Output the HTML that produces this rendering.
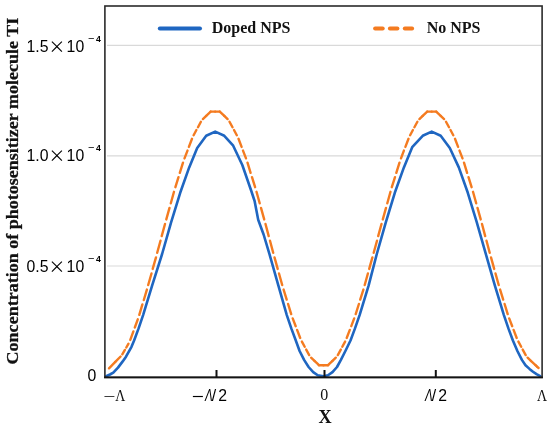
<!DOCTYPE html>
<html><head><meta charset="utf-8"><title>Concentration of photosensitizer molecule TI</title>
<style>
html,body{margin:0;padding:0;background:#fff;}
body{width:550px;height:428px;overflow:hidden;}
svg{display:block;}
.sans{font-family:"Liberation Sans",sans-serif;fill:#000;}
.serif{font-family:"Liberation Serif",serif;fill:#111;}
.b{font-weight:bold;}
</style></head><body>
<svg width="550" height="428" viewBox="0 0 550 428">
<rect width="550" height="428" fill="#fff"/>
<!-- gridlines -->
<g stroke="#d9d9d9" stroke-width="1.2">
<line x1="107" x2="541" y1="45.4" y2="45.4"/>
<line x1="107" x2="541" y1="155.9" y2="155.9"/>
<line x1="107" x2="541" y1="266" y2="266"/>
</g>
<!-- series: No NPS (dashed) -->
<g fill="none" stroke="#f47b20" stroke-width="2.4" stroke-linecap="round">
<line x1="109.0" y1="368.3" x2="115.3" y2="361.9"/>
<line x1="115.3" y1="361.9" x2="120.6" y2="356.5"/>
<line x1="122.3" y1="354.3" x2="124.9" y2="349.9"/>
<line x1="126.3" y1="347.5" x2="128.5" y2="343.7"/>
<line x1="130.3" y1="339.9" x2="133.4" y2="331.4"/>
<line x1="134.8" y1="327.5" x2="137.8" y2="319.3"/>
<line x1="139.3" y1="314.8" x2="142.4" y2="304.4"/>
<line x1="143.8" y1="300.0" x2="146.9" y2="289.6"/>
<line x1="148.2" y1="285.0" x2="151.5" y2="273.5"/>
<line x1="152.7" y1="268.9" x2="156.0" y2="257.4"/>
<line x1="157.2" y1="252.8" x2="160.5" y2="240.7"/>
<line x1="161.7" y1="236.1" x2="165.0" y2="224.0"/>
<line x1="166.3" y1="219.4" x2="169.5" y2="207.9"/>
<line x1="170.8" y1="203.3" x2="174.0" y2="191.8"/>
<line x1="175.4" y1="187.2" x2="178.5" y2="177.2"/>
<line x1="179.8" y1="172.8" x2="183.0" y2="162.7"/>
<line x1="184.5" y1="158.4" x2="187.5" y2="150.6"/>
<line x1="188.9" y1="146.9" x2="192.0" y2="138.8"/>
<line x1="193.6" y1="135.2" x2="196.4" y2="130.0"/>
<line x1="198.0" y1="127.2" x2="200.9" y2="121.7"/>
<line x1="202.9" y1="119.1" x2="206.2" y2="115.9"/>
<line x1="206.2" y1="115.9" x2="210.7" y2="111.6"/>
<line x1="210.7" y1="111.6" x2="215.2" y2="111.6"/>
<line x1="215.2" y1="111.6" x2="219.8" y2="111.6"/>
<line x1="219.8" y1="111.6" x2="224.3" y2="115.9"/>
<line x1="224.3" y1="115.9" x2="227.6" y2="119.1"/>
<line x1="229.5" y1="121.7" x2="232.5" y2="127.2"/>
<line x1="234.0" y1="130.0" x2="236.8" y2="135.2"/>
<line x1="238.5" y1="138.8" x2="241.6" y2="146.9"/>
<line x1="243.0" y1="150.6" x2="246.0" y2="158.4"/>
<line x1="247.5" y1="162.7" x2="250.6" y2="172.8"/>
<line x1="252.0" y1="177.2" x2="255.1" y2="187.2"/>
<line x1="256.5" y1="191.8" x2="259.7" y2="203.3"/>
<line x1="261.0" y1="207.9" x2="264.2" y2="219.4"/>
<line x1="265.5" y1="224.0" x2="268.7" y2="236.1"/>
<line x1="270.0" y1="240.7" x2="273.2" y2="252.8"/>
<line x1="274.5" y1="257.4" x2="277.7" y2="268.9"/>
<line x1="279.0" y1="273.5" x2="282.2" y2="285.0"/>
<line x1="283.6" y1="289.6" x2="286.7" y2="299.6"/>
<line x1="288.1" y1="304.0" x2="291.2" y2="314.1"/>
<line x1="292.7" y1="318.4" x2="295.7" y2="326.2"/>
<line x1="297.1" y1="329.9" x2="300.2" y2="338.0"/>
<line x1="301.9" y1="341.6" x2="304.7" y2="346.8"/>
<line x1="306.2" y1="349.6" x2="309.2" y2="355.1"/>
<line x1="311.1" y1="357.7" x2="314.5" y2="360.9"/>
<line x1="314.5" y1="360.9" x2="319.0" y2="365.2"/>
<line x1="319.0" y1="365.2" x2="323.5" y2="365.2"/>
<line x1="323.5" y1="365.2" x2="328.0" y2="365.2"/>
<line x1="328.0" y1="365.2" x2="332.5" y2="360.9"/>
<line x1="332.5" y1="360.9" x2="335.8" y2="357.7"/>
<line x1="337.8" y1="355.1" x2="340.8" y2="349.6"/>
<line x1="342.3" y1="346.8" x2="345.1" y2="341.6"/>
<line x1="346.7" y1="338.0" x2="349.8" y2="329.9"/>
<line x1="351.3" y1="326.2" x2="354.2" y2="318.4"/>
<line x1="355.7" y1="314.1" x2="358.9" y2="304.0"/>
<line x1="360.2" y1="299.6" x2="363.4" y2="289.6"/>
<line x1="364.7" y1="285.0" x2="367.9" y2="273.5"/>
<line x1="369.2" y1="268.9" x2="372.4" y2="257.4"/>
<line x1="373.7" y1="252.8" x2="377.0" y2="240.7"/>
<line x1="378.2" y1="236.1" x2="381.5" y2="224.0"/>
<line x1="382.8" y1="219.4" x2="386.0" y2="207.9"/>
<line x1="387.3" y1="203.3" x2="390.5" y2="191.8"/>
<line x1="391.8" y1="187.2" x2="395.0" y2="177.2"/>
<line x1="396.3" y1="172.8" x2="399.5" y2="162.7"/>
<line x1="401.0" y1="158.4" x2="403.9" y2="150.6"/>
<line x1="405.4" y1="146.9" x2="408.5" y2="138.8"/>
<line x1="410.1" y1="135.2" x2="412.9" y2="130.0"/>
<line x1="414.4" y1="127.2" x2="417.4" y2="121.7"/>
<line x1="419.4" y1="119.1" x2="422.7" y2="115.9"/>
<line x1="422.7" y1="115.9" x2="427.2" y2="111.6"/>
<line x1="427.2" y1="111.6" x2="431.7" y2="111.6"/>
<line x1="431.7" y1="111.6" x2="436.2" y2="111.6"/>
<line x1="436.2" y1="111.6" x2="440.7" y2="115.9"/>
<line x1="440.7" y1="115.9" x2="444.1" y2="119.1"/>
<line x1="446.0" y1="121.7" x2="449.0" y2="127.2"/>
<line x1="450.5" y1="130.0" x2="453.3" y2="135.2"/>
<line x1="455.0" y1="138.8" x2="458.1" y2="146.9"/>
<line x1="459.5" y1="150.6" x2="462.5" y2="158.4"/>
<line x1="464.0" y1="162.7" x2="467.1" y2="172.8"/>
<line x1="468.5" y1="177.2" x2="471.6" y2="187.2"/>
<line x1="473.0" y1="191.8" x2="476.2" y2="203.3"/>
<line x1="477.5" y1="207.9" x2="480.7" y2="219.4"/>
<line x1="482.0" y1="224.0" x2="485.2" y2="236.1"/>
<line x1="486.5" y1="240.7" x2="489.7" y2="252.8"/>
<line x1="491.0" y1="257.4" x2="494.2" y2="268.9"/>
<line x1="495.5" y1="273.5" x2="498.7" y2="285.0"/>
<line x1="500.1" y1="289.6" x2="503.2" y2="299.6"/>
<line x1="504.6" y1="304.0" x2="507.7" y2="314.1"/>
<line x1="509.2" y1="318.4" x2="512.2" y2="326.2"/>
<line x1="513.6" y1="329.9" x2="516.7" y2="338.0"/>
<line x1="518.4" y1="341.6" x2="521.2" y2="346.8"/>
<line x1="522.7" y1="349.6" x2="525.7" y2="355.1"/>
<line x1="527.6" y1="357.7" x2="530.9" y2="360.9"/>
<line x1="530.9" y1="360.9" x2="535.5" y2="365.2"/>
<line x1="535.5" y1="365.2" x2="537.0" y2="366.6"/>
<line x1="537.0" y1="366.6" x2="538.6" y2="368.0"/>
</g>
<!-- series: Doped NPS -->
<polyline fill="none" stroke="#1f66c1" stroke-width="2.6" stroke-linecap="round" stroke-linejoin="round" points="106.2,376.2 110.0,374.5 113.3,372.6 118.0,367.6 122.7,361.4 126.0,356.7 131.5,346.8 134.1,340.5 138.6,328.4 143.1,315.1 152.1,285.6 162.1,254.0 171.1,222.3 180.2,192.8 189.2,167.4 197.2,148.0 206.2,135.8 215.2,131.6 224.3,135.8 233.2,145.7 242.3,165.0 251.3,191.0 254.6,201.0 258.2,219.8 263.6,234.5 269.4,253.9 278.4,285.6 286.8,315.1 291.3,328.4 295.8,340.5 299.6,351.0 304.1,359.9 308.6,367.0 313.2,372.1 317.7,375.3 323.5,376.3 328.0,375.3 332.5,372.1 337.0,367.0 340.9,359.9 345.4,351.0 350.5,340.5 355.0,328.4 359.6,315.1 368.6,285.6 376.8,254.0 385.8,222.3 394.8,192.8 403.9,167.4 412.2,147.2 422.7,135.8 431.7,131.6 440.7,135.8 449.8,148.0 458.8,167.4 467.8,192.8 476.8,222.3 485.8,253.9 494.9,285.6 503.9,315.1 508.4,328.4 512.9,340.5 517.4,351.0 521.9,359.9 525.5,365.3 529.5,368.9 533.0,371.7 536.5,374.1 540.2,376.2"/>
<!-- frame -->
<rect x="104.9" y="6" width="437.2" height="371.4" fill="none" stroke="#2b2b2b" stroke-width="1.6"/>
<line x1="104.1" x2="542.9" y1="377.4" y2="377.4" stroke="#141414" stroke-width="1.6"/>
<g stroke="#111" stroke-width="2">
<line x1="216.5" x2="216.5" y1="370" y2="377.4"/>
<line x1="324.5" x2="324.5" y1="370" y2="377.4"/>
<line x1="435.8" x2="435.8" y1="370" y2="377.4"/>
</g>
<!-- legend -->
<line x1="159.8" x2="200" y1="28.4" y2="28.4" stroke="#1f66c1" stroke-width="4" stroke-linecap="round"/>
<g stroke="#f47b20" stroke-width="4" stroke-linecap="round">
<line x1="375.1" x2="382.7" y1="28.5" y2="28.5"/>
<line x1="389.9" x2="397.4" y1="28.5" y2="28.5"/>
<line x1="404.8" x2="412.1" y1="28.5" y2="28.5"/>
</g>
<text class="serif b" x="211.8" y="33.2" font-size="16">Doped NPS</text>
<text class="serif b" x="426.7" y="33.2" font-size="16">No NPS</text>
<!-- y tick labels -->
<g class="sans" font-size="15.8">
<text x="26.5" y="51.5">1.5</text><text x="57" y="52.6" font-size="16.8" text-anchor="middle" font-family="Noto Sans CJK SC, sans-serif">×</text><text x="66.6" y="51.5">10</text><text x="87.9" y="41.9" font-size="11">−</text><text class="b" x="96" y="41.9" font-size="8.7">4</text>
<text x="26.5" y="160.9">1.0</text><text x="57" y="162.0" font-size="16.8" text-anchor="middle" font-family="Noto Sans CJK SC, sans-serif">×</text><text x="66.6" y="160.9">10</text><text x="87.9" y="150.7" font-size="11">−</text><text class="b" x="96" y="150.7" font-size="8.7">4</text>
<text x="26.5" y="271.8">0.5</text><text x="57" y="272.9" font-size="16.8" text-anchor="middle" font-family="Noto Sans CJK SC, sans-serif">×</text><text x="66.6" y="271.8">10</text><text x="87.9" y="262.2" font-size="11">−</text><text class="b" x="96" y="262.2" font-size="8.7">4</text>
<text x="87.4" y="380.7">0</text>
</g>
<!-- x tick labels -->
<text class="serif" font-size="16.5" transform="translate(103.3 401.5) scale(1.3 1)">−</text><text class="serif" font-size="16.5" transform="translate(115.2 400.7) scale(0.84 1)">Λ</text>
<text class="sans" font-size="16.5" transform="translate(191.75 401.8) scale(1.25 1)">−</text><text class="sans" font-size="15.8" font-style="italic" transform="translate(205.1 400.8) scale(0.72 1)">Λ</text><text class="sans" font-size="15.8" x="211.7" y="400.8">/<tspan dx="2.2">2</tspan></text>
<text class="serif" x="320.2" y="399.5" font-size="16">0</text>
<text class="sans" font-size="15.8" font-style="italic" transform="translate(425.1 400.8) scale(0.72 1)">Λ</text><text class="sans" font-size="15.8" x="431.7" y="400.8">/<tspan dx="2.2">2</tspan></text>
<text class="serif" font-size="16.5" transform="translate(537 400.8) scale(0.84 1)">Λ</text>
<text class="serif b" x="325.1" y="423" font-size="18.2" text-anchor="middle">X</text>
<!-- y title -->
<text class="serif b" font-size="18" stroke="#111" stroke-width="0.3" transform="translate(17.8 364.4) rotate(-90) scale(1 0.93)" textLength="346.6" lengthAdjust="spacing">Concentration of photosensitizer molecule TI</text>
</svg>
</body></html>
